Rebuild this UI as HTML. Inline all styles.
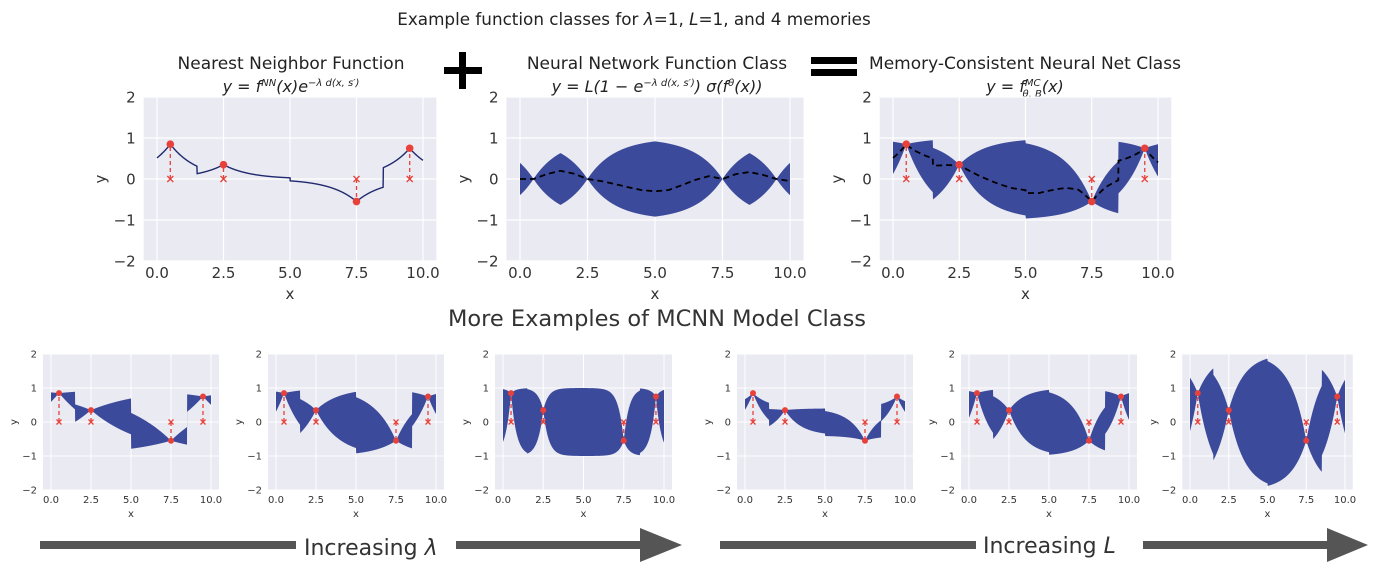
<!DOCTYPE html>
<html><head><meta charset="utf-8">
<style>
html,body{margin:0;padding:0;background:#fff;}
body{width:1376px;height:568px;overflow:hidden;position:relative;font-family:"DejaVu Sans","Liberation Sans",sans-serif;}
svg{position:absolute;left:0;top:0;font-family:"DejaVu Sans","Liberation Sans",sans-serif;}
</style></head>
<body>
<svg id="fig" width="1376" height="568" viewBox="0 0 1376 568" xmlns="http://www.w3.org/2000/svg">
<text x="634" y="25" text-anchor="middle" font-size="16.8" fill="#222">Example function classes for <tspan font-style="italic">λ</tspan>=1, <tspan font-style="italic">L</tspan>=1, and 4 memories</text>
<text x="291" y="69" text-anchor="middle" font-size="17" fill="#222">Nearest Neighbor Function</text>
<text x="291" y="92" text-anchor="middle" font-size="16" fill="#222" font-style="italic">y = f<tspan font-size="10" dy="-6">NN</tspan><tspan dy="6">(x)e</tspan><tspan font-size="10" dy="-6">−λ d(x, s′)</tspan></text>
<text x="657" y="69" text-anchor="middle" font-size="17" fill="#222">Neural Network Function Class</text>
<text x="657" y="92" text-anchor="middle" font-size="16" fill="#222" font-style="italic">y = L(1 − e<tspan font-size="10" dy="-6">−λ d(x, s′)</tspan><tspan dy="6">) σ(f</tspan><tspan font-size="10" dy="-6">θ</tspan><tspan dy="6">(x))</tspan></text>
<text x="1025" y="69" text-anchor="middle" font-size="17" fill="#222">Memory-Consistent Neural Net Class</text>
<text x="1025" y="92" text-anchor="middle" font-size="16" fill="#222" font-style="italic">y = f<tspan font-size="10" dy="-6">MC</tspan><tspan font-size="10" dx="-18" dy="11">θ, B</tspan><tspan dy="-5">(x)</tspan></text>
<g fill="#000"><rect x="444" y="67" width="38" height="7"/><rect x="459" y="52" width="7" height="37"/></g>
<g fill="#000"><rect x="811" y="57" width="46" height="7"/><rect x="811" y="69" width="46" height="7"/></g>
<text x="657" y="326" text-anchor="middle" font-size="22.5" fill="#333">More Examples of MCNN Model Class</text>
<g fill="#555">
<rect x="40" y="541" width="256" height="8"/><rect x="456" y="541" width="186" height="8"/><polygon points="640,528 682,545 640,562"/>
</g>
<text x="304" y="555" font-size="22" fill="#333">Increasing <tspan font-style="italic">λ</tspan></text>
<g fill="#555">
<rect x="720" y="541" width="256" height="8"/><rect x="1143" y="541" width="186" height="8"/><polygon points="1327,528 1368,545 1327,562"/>
</g>
<text x="983" y="553" font-size="22" fill="#333">Increasing <tspan font-style="italic">L</tspan></text>
<g id="panels"></g>
</svg>
<script>
const memX = [0.5, 2.5, 7.5, 9.5];
const memY = [0.85, 0.35, -0.55, 0.75];
const thetaX = [0,0.5,1,1.5,2,2.5,3,3.5,4,4.5,5,5.5,6,6.5,7,7.5,8,8.5,9,9.5,10];
const thetaY = [0,0,0.12,0.2,0.13,0,-0.05,-0.12,-0.2,-0.27,-0.3,-0.27,-0.15,-0.02,0.07,0,0.12,0.17,0.1,0,-0.05];
const panelLambda = [1, 1, 1, 0.3, 0.7, 3, 1, 1, 1];
const panelL = [1, 1, 1, 1, 1, 1, 0.4, 1, 2];
const xTicks = [0, 2.5, 5, 7.5, 10];
const xTickLabels = ['0.0', '2.5', '5.0', '7.5', '10.0'];
const yTicks = [-2, -1, 0, 1, 2];
const yTickLabels = ['−2', '−1', '0', '1', '2'];

const layout = [
 {x0:157,x10:423,yt:97,yb:261,kind:'nn',big:true,name:'nearest-neighbor'},
 {x0:520,x10:790,yt:97,yb:261,kind:'theta',big:true,name:'neural-network'},
 {x0:893,x10:1158,yt:97,yb:261,kind:'mc',big:true,name:'memory-consistent'},
 {x0:51,x10:211,yt:354,yb:490,kind:'band',big:false,name:'lambda-low'},
 {x0:276,x10:436,yt:354,yb:490,kind:'band',big:false,name:'lambda-mid'},
 {x0:503,x10:664,yt:354,yb:490,kind:'band',big:false,name:'lambda-high'},
 {x0:745,x10:905,yt:354,yb:490,kind:'band',big:false,name:'L-low'},
 {x0:969,x10:1129,yt:354,yb:490,kind:'band',big:false,name:'L-mid'},
 {x0:1190,x10:1345,yt:354,yb:490,kind:'band',big:false,name:'L-high'}
];
const NS='http://www.w3.org/2000/svg';
function mk(tag,attrs,parent){const e=document.createElementNS(NS,tag);for(const k in attrs)e.setAttribute(k,attrs[k]);parent.appendChild(e);return e;}
function nearest(x){let bi=0,bd=1e9;for(let i=0;i<memX.length;i++){const d=Math.abs(x-memX[i]);if(d<bd){bd=d;bi=i;}}return [bi,bd];}
function theta(x){for(let i=0;i<thetaX.length-1;i++){if(x<=thetaX[i+1]){const t=(x-thetaX[i])/(thetaX[i+1]-thetaX[i]);return thetaY[i]+t*(thetaY[i+1]-thetaY[i]);}}return thetaY[thetaY.length-1];}
const root=document.getElementById('panels');
layout.forEach((p,pi)=>{
 const lam=panelLambda[pi], L=panelL[pi];
 const sx=(p.x10-p.x0)/10;
 const X=v=>p.x0+v*sx;
 const Y=v=>p.yt+(2-v)*(p.yb-p.yt)/4;
 const g=mk('g',{},root);
 
 
 const bg=mk('rect',{x:X(-0.5),y:p.yt,width:X(10.5)-X(-0.5),height:p.yb-p.yt,fill:'#eaeaf2'},g);
 
 
 const fs=p.big?15:10;
 xTicks.forEach((t,i)=>{
  mk('line',{x1:X(t),x2:X(t),y1:p.yt,y2:p.yb,stroke:'#fff','stroke-width':p.big?1.2:1},g);
  const tl=mk('text',{x:X(t),y:p.yb+(p.big?17:13),'text-anchor':'middle','font-size':fs,fill:'#333'},g);
  tl.textContent=xTickLabels[i];
  
  
 });
 yTicks.forEach((t,i)=>{
  mk('line',{x1:X(-0.5),x2:X(10.5),y1:Y(t),y2:Y(t),stroke:'#fff','stroke-width':p.big?1.2:1},g);
  const tl=mk('text',{x:X(-0.5)-(p.big?8:6),y:Y(t)+fs*0.35,'text-anchor':'end','font-size':fs,fill:'#333'},g);
  tl.textContent=yTickLabels[i];
  
  
 });
 const xl=mk('text',{x:X(5),y:p.yb+(p.big?38:27),'text-anchor':'middle','font-size':fs,fill:'#333'},g);
 xl.textContent='x';
 
 
 const yx=X(-0.5)-(p.big?38:26), yy=Y(0);
 const yl=mk('text',{x:yx,y:yy,'text-anchor':'middle','font-size':fs,fill:'#333',transform:'rotate(-90 '+yx+' '+yy+')'},g);
 yl.textContent='y';
 
 
 const xs=[];for(let k=0;k<=1000;k++)xs.push(k/100);
 const nn=x=>{const [i,d]=nearest(x);return memY[i]*Math.exp(-lam*d);};
 const env=x=>{const [i,d]=nearest(x);return L*(1-Math.exp(-lam*d));};
 if(p.kind==='nn'){
  const ln=mk('polyline',{points:xs.map(x=>X(x)+','+Y(nn(x))).join(' '),fill:'none',stroke:'#1f2a6e','stroke-width':1.4},g);
  
  
 } else {
  const base=p.kind==='theta'?(x=>0):nn;
  const up=xs.map(x=>X(x)+','+Y(base(x)+env(x)));
  const lo=xs.slice().reverse().map(x=>X(x)+','+Y(base(x)-env(x)));
  const band=mk('polygon',{points:up.concat(lo).join(' '),fill:'#3c4a9b'},g);
  
  
  if(p.kind!=='band'){
   const dl=mk('polyline',{points:xs.map(x=>X(x)+','+Y(base(x)+theta(x))).join(' '),fill:'none',stroke:'#000','stroke-width':1.8,'stroke-dasharray':'6,4'},g);
   
   
  }
 }
 if(p.kind!=='theta'){
  memX.forEach((mx,i)=>{
   const mg=mk('g',{},g);
   
   
   mk('line',{x1:X(mx),x2:X(mx),y1:Y(0),y2:Y(memY[i]),stroke:'#e8413a','stroke-width':1.3,'stroke-dasharray':'4,3'},mg);
   const s=p.big?3:2.5;
   mk('path',{d:'M'+(X(mx)-s)+','+(Y(0)-s)+'L'+(X(mx)+s)+','+(Y(0)+s)+'M'+(X(mx)-s)+','+(Y(0)+s)+'L'+(X(mx)+s)+','+(Y(0)-s),stroke:'#e8413a','stroke-width':1.3},mg);
   mk('circle',{cx:X(mx),cy:Y(memY[i]),r:p.big?3.8:3,fill:'#e8413a'},mg);
  });
 }
});
</script>
</body></html>
